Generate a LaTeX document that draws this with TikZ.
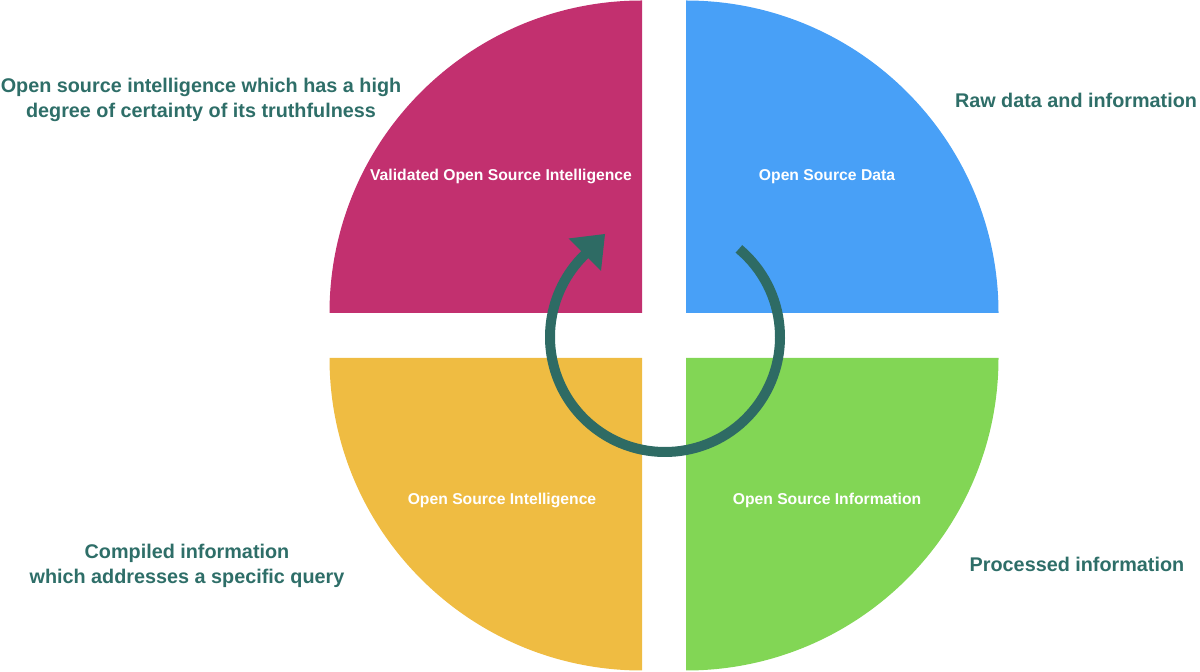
\documentclass[tikz,border=0pt]{standalone}
\usepackage{fontspec}
\setmainfont{Liberation Sans}
\definecolor{qmag}{HTML}{C2306F}
\definecolor{qblue}{HTML}{48A0F7}
\definecolor{qgreen}{HTML}{82D655}
\definecolor{qyellow}{HTML}{EFBC42}
\definecolor{tealtxt}{HTML}{2E6E68}
\definecolor{arrowc}{HTML}{2E6B64}
\begin{document}
\begin{tikzpicture}[x=1pt,y=1pt,
  inner/.style={text=white,font=\fontsize{15.7}{18}\selectfont\bfseries,inner sep=0pt},
  outer/.style={text=tealtxt,font=\fontsize{19.8}{25}\selectfont\bfseries,align=center,inner sep=0pt}]
\useasboundingbox (0,0) rectangle (1200,672);
% quadrants
\fill[qmag] (642,359) -- (329.5,359) arc[start angle=180,end angle=90,radius=312.5pt] -- cycle;
\fill[qblue] (686,359) -- (686,671.5) arc[start angle=90,end angle=0,radius=312.5pt] -- cycle;
\fill[qyellow] (642,314) -- (642,1.5) arc[start angle=270,end angle=180,radius=312.5pt] -- cycle;
\fill[qgreen] (686,314) -- (998.5,314) arc[start angle=0,end angle=-90,radius=312.5pt] -- cycle;
% inner labels
\node[inner] (voi) at (501,495.5) {Validated Open Source Intelligence};
\node[inner] (osd) at (827,495.5) {Open Source Data};
\node[inner] (osint) at (502,171.5) {Open Source Intelligence};
\node[inner] (osinf) at (827,171.5) {Open Source Information};
% outer labels
\node[outer] (dvoi) at (201,572) {Open source intelligence which has a high\\degree of certainty of its truthfulness};
\node[outer] (dosd) at (1076,571.5) {Raw data and information};
\node[outer] (dosint) at (187,106) {Compiled information\\which addresses a specific query};
\node[outer] (dosinf) at (1077,107.5) {Processed information};
% cycle arrow
\coordinate (cc) at (665,335);
\draw[arrowc,line width=10pt] ([shift={(50:115pt)}]cc) arc[start angle=50,end angle=-228,radius=115pt];
\fill[arrowc] (605,438) -- (568.5,433.5) -- (601,401) -- cycle;
\end{tikzpicture}
\end{document}
